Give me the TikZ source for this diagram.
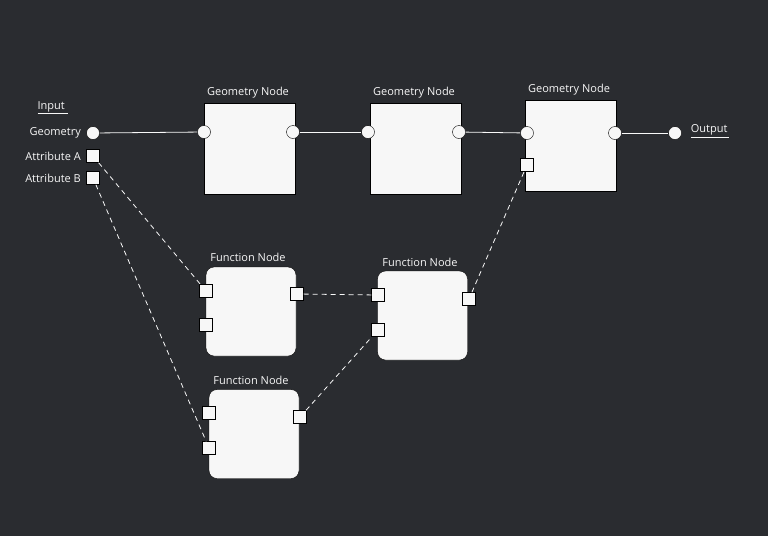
\documentclass[tikz,border=0pt]{standalone}
\usepackage{fontspec}
\setmainfont{Open Sans}
\definecolor{bg}{HTML}{2A2C30}
\definecolor{fg}{HTML}{F7F7F7}
\begin{document}
\begin{tikzpicture}[x=1pt,y=-1pt,
  lbl/.style={text=fg,font=\fontsize{11}{12}\selectfont,inner sep=1pt},
  gnode/.style={draw=black,fill=fg,minimum width=91pt,minimum height=91pt,inner sep=0pt},
  fnode/.style={draw=black,fill=fg,rounded corners=8pt,minimum width=90pt,minimum height=89pt,inner sep=0pt},
  cport/.style={circle,draw=black,fill=fg,minimum size=13pt,inner sep=0pt},
  sport/.style={draw=black,fill=fg,minimum size=13pt,inner sep=0pt},
  wire/.style={fg!80,line width=0.8pt},
  dwire/.style={fg!80,line width=0.8pt,dash pattern=on 5pt off 4pt}]
\fill[bg] (0,0) rectangle (768,536);
\useasboundingbox (0,0) rectangle (768,536);
% input
\node[lbl] (inp) at (53,108) {\underline{Input\,\,}};
\node[cport] (ig) at (93,133) {};
\node[sport] (ia) at (93,156) {};
\node[sport] (ib) at (93,178) {};
\node[lbl,anchor=east] at (82,133) {Geometry};
\node[lbl,anchor=east] at (82,156) {Attribute A};
\node[lbl,anchor=east] at (82,178) {Attribute B};
% geometry nodes
\node[gnode] (g1) at (249.5,148.5) {};
\node[lbl] at (248,93) {Geometry Node};
\node[cport] (g1i) at (204,132) {};
\node[cport] (g1o) at (293,132) {};
\node[gnode] (g2) at (415.5,148.5) {};
\node[lbl] at (414,93) {Geometry Node};
\node[cport] (g2i) at (368,132) {};
\node[cport] (g2o) at (459,132) {};
\node[gnode] (g3) at (571,146) {};
\node[lbl] at (569,90) {Geometry Node};
\node[cport] (g3i) at (527,133) {};
\node[cport] (g3o) at (615,133) {};
\node[sport] (g3a) at (527,165) {};
\node[cport] (out) at (675,133) {};
\node[lbl] at (710,131) {\underline{Output\,}};
% function nodes
\node[fnode] (f1) at (251,311.5) {};
\node[lbl] at (248,257) {Function Node};
\node[sport] (f1a) at (206,291) {};
\node[sport] (f1b) at (206,325) {};
\node[sport] (f1o) at (297,294) {};
\node[fnode] (f2) at (422.5,315.5) {};
\node[lbl] at (420,262) {Function Node};
\node[sport] (f2a) at (378,295) {};
\node[sport] (f2b) at (378,330) {};
\node[sport] (f2o) at (469,299) {};
\node[fnode] (f3) at (254,434) {};
\node[lbl] at (251,380) {Function Node};
\node[sport] (f3a) at (209,413) {};
\node[sport] (f3b) at (209,448) {};
\node[sport] (f3o) at (300,417) {};
% wires
\draw[wire] (ig) -- (g1i);
\draw[wire] (g1o) -- (g2i);
\draw[wire] (g2o) -- (g3i);
\draw[wire] (g3o) -- (out);
\draw[dwire] (ia) -- (f1a);
\draw[dwire] (ib) -- (f3b);
\draw[dwire] (f1o) -- (f2a);
\draw[dwire] (f3o) -- (f2b);
\draw[dwire] (f2o) -- (g3a);
\end{tikzpicture}
\end{document}
